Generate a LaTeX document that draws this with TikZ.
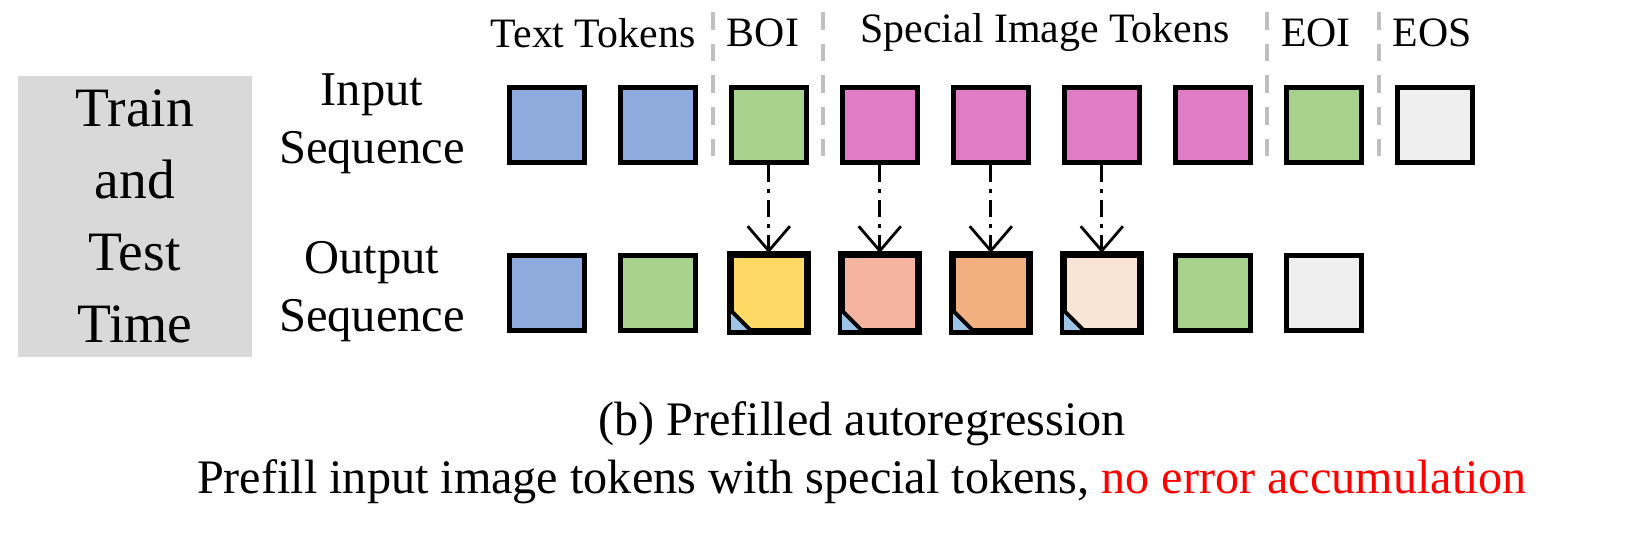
\documentclass[tikz,border=0pt]{standalone}
\usepackage{fontspec}
\setmainfont{Liberation Serif}
\usetikzlibrary{arrows.meta}
\definecolor{cblue}{HTML}{8FAADC}
\definecolor{cgreen}{HTML}{A9D18E}
\definecolor{cmag}{HTML}{E07CC5}
\definecolor{cgray}{HTML}{EFEFEF}
\definecolor{cyel}{HTML}{FFD966}
\definecolor{csal}{HTML}{F4B4A0}
\definecolor{corg}{HTML}{F2AF80}
\definecolor{cpea}{HTML}{FAE4D6}
\definecolor{ctri}{HTML}{9DC3E6}
\begin{document}
\begin{tikzpicture}[x=0.01cm,y=-0.01cm,
  tok/.style={draw=black,line width=1.3pt,minimum size=0.75cm,inner sep=0,anchor=north west},
  hdr/.style={font=\fontsize{11.9}{14}\selectfont},
  lbl/.style={font=\fontsize{13.8}{16.5}\selectfont,align=center},
  sep/.style={draw=gray!50,dash pattern=on 5pt off 4pt,line width=0.9pt},
  arr/.style={dash pattern=on 5pt off 2pt on 1pt off 2pt,line width=0.8pt,-{Straight Barb[length=7pt,width=12pt]}}]
\node[fill=gray!30,minimum width=2.34cm,minimum height=2.81cm,anchor=north west,inner sep=0] (box) at (17,75) {};
\node[font=\fontsize{15.8}{20.5}\selectfont,align=center] (tt) at (box.center) {Train\\and\\Test\\Time};
\node[lbl] (ins) at (372,124) {Input\\Sequence};
\node[lbl] (outs) at (372,292) {Output\\Sequence};
\node[hdr] (h1) at (593,33) {Text Tokens};
\node[hdr] (h2) at (763,33) {BOI};
\node[hdr] (h3) at (1045,33) {Special Image Tokens};
\node[hdr] (h4) at (1316,33) {EOI};
\node[hdr] (h5) at (1432,33) {EOS};
\foreach \x/\n in {713/a,823/b,1267/c,1379/d}{
  \coordinate (s\n1) at (\x,12); \coordinate (s\n2) at (\x,165);
  \draw[sep] (s\n1) -- (s\n2);}
\foreach \i/\c in {1/cblue,2/cblue,3/cgreen,4/cmag,5/cmag,6/cmag,7/cmag,8/cgreen,9/cgray}{
  \node[tok,fill=\c] (i\i) at ({507+111*(\i-1)},85) {};}
\foreach \i/\c in {1/cblue,2/cgreen,3/cyel,4/csal,5/corg,6/cpea,7/cgreen,8/cgray}{
  \node[tok,fill=\c] (o\i) at ({507+111*(\i-1)},253) {};}
\foreach \i in {3,4,5,6}{
  \fill[ctri] (o\i.south west) -- ++(0,-24) -- ++(24,24) -- cycle;
  \draw[line width=1.1pt] (o\i.south west) ++(0,-24) -- ++(24,24);
  \draw[line width=1.3pt] (o\i.south west) rectangle (o\i.north east);
  \draw[arr] (i\i.south) -- (o\i.north);}
\node[font=\fontsize{13.7}{17}\selectfont] (t) at (862,424) {(b) Prefilled autoregression};
\node[font=\fontsize{13.7}{17}\selectfont] (st) at (862,482) {Prefill input image tokens with special tokens, \textcolor{red}{no error accumulation}};
\pgfresetboundingbox
\useasboundingbox (0,0) rectangle (1648,552);
\end{tikzpicture}
\end{document}
